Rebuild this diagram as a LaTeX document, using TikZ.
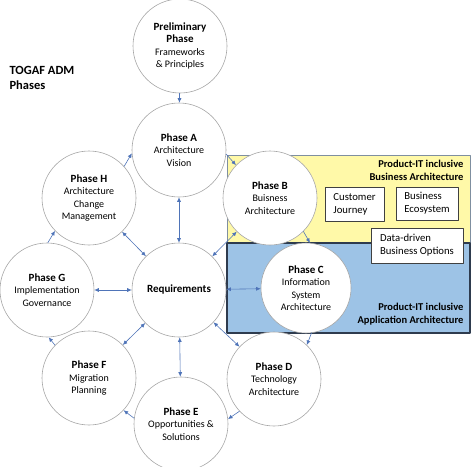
\documentclass[tikz,border=0pt]{standalone}
\usepackage{fontspec}
\setmainfont{Carlito}
\usetikzlibrary{arrows.meta}
\definecolor{circgray}{HTML}{A6A6A6}
\definecolor{arrowblue}{HTML}{4F74B8}
\definecolor{bizyellow}{HTML}{FFF9A8}
\definecolor{bizline}{HTML}{7F8FA0}
\definecolor{appblue}{HTML}{9DC3E6}
\definecolor{appline}{HTML}{2E3B4E}
\definecolor{boxline}{HTML}{404040}
\newcommand{\phasehead}[1]{{\fontsize{11}{12.5}\selectfont\bfseries #1}}

\begin{document}
\begin{tikzpicture}[line cap=round,line join=round,x=1pt,y=-1pt,
    phase/.style={circle,draw=circgray,line width=0.6pt,fill=white,minimum size=94pt,inner sep=0pt,align=center,font=\fontsize{10}{12.5}\selectfont},
    infobox/.style={draw=boxline,line width=0.8pt,fill=white,align=left,inner sep=0pt,font=\fontsize{10.7}{13}\selectfont},
    archlbl/.style={anchor=east,align=right,font=\fontsize{10.5}{13}\selectfont\bfseries},
    onearrow/.style={draw=arrowblue,line width=0.6pt,-{Latex[length=4.5pt,width=4pt]}},
    twoarrow/.style={draw=arrowblue,line width=0.6pt,{Latex[length=4.5pt,width=4pt]}-{Latex[length=4.5pt,width=4pt]}}]
    \useasboundingbox (0,0) rectangle (474,466);
    \filldraw [fill=bizyellow,draw=bizline,line width=0.8pt] (227,155) rectangle (470,243);
    \filldraw [fill=appblue,draw=appline,line width=1.3pt] (227,243) rectangle (470,333);
    \node [archlbl] (bizlbl) at (467,170.5) {Product-IT inclusive\\Business Architecture};
    \node [archlbl] (applbl) at (467,314) {Product-IT inclusive\\Application Architecture};
    \node [infobox,minimum width=59pt,minimum height=34pt] (journey) at (354.5,204) {Customer\\Journey};
    \node [infobox,minimum width=62pt,minimum height=33pt] (ecosys) at (427,203.5) {Business\\Ecosystem};
    \node [infobox,minimum width=92pt,minimum height=35pt] (options) at (417,245.5) {Data-driven\\Business Options};
    \node [anchor=west,align=left,font=\fontsize{12.5}{15}\selectfont\bfseries] (title) at (6,77.5) {TOGAF ADM\\Phases};
    \node [phase] (prelim) at (180,46) {\phasehead{Preliminary}\\\phasehead{Phase}\\Frameworks\\\& Principles};
    \node [phase] (phA) at (179,150) {\phasehead{Phase A}\\Architecture\\Vision};
    \node [phase] (phB) at (270,198) {\phasehead{Phase B}\\Buisness\\Architecture};
    \node [phase,minimum size=90pt] (phC) at (306,288) {\phasehead{Phase C}\\Information\\System\\Architecture};
    \node [phase] (phD) at (274,379) {\phasehead{Phase D}\\Technology\\Architecture};
    \node [phase] (phE) at (181,424) {\phasehead{Phase E}\\Opportunities \&\\Solutions};
    \node [phase] (phF) at (89,378) {\phasehead{Phase F}\\Migration\\Planning};
    \node [phase] (phG) at (47,290) {\phasehead{Phase G}\\Implementation\\Governance};
    \node [phase] (phH) at (89,198) {\phasehead{Phase H}\\Architecture\\Change\\Management};
    \node [phase] (req) at (179,290) {\phasehead{Requirements}};
    \draw [onearrow] (prelim) -- (phA);
    \draw [onearrow] (phH.42) -- (phA.184);
    \draw [onearrow] (phA.-5) -- (phB.136);
    \draw [onearrow] (phB.-45) -- (phC.85);
    \draw [onearrow] (phC.-83) -- (phD.46);
    \draw [onearrow] (phD.-137) -- (phE.6);
    \draw [onearrow] (phE.173) -- (phF.-43);
    \draw [onearrow] (phF.136) -- (phG.-88);
    \draw [onearrow] (phG.89) -- (phH.-136);
    \foreach \ph in {phA,phB,phC,phD,phE,phF,phG,phH}
        \draw [twoarrow] (req) -- (\ph);
\end{tikzpicture}
\end{document}
